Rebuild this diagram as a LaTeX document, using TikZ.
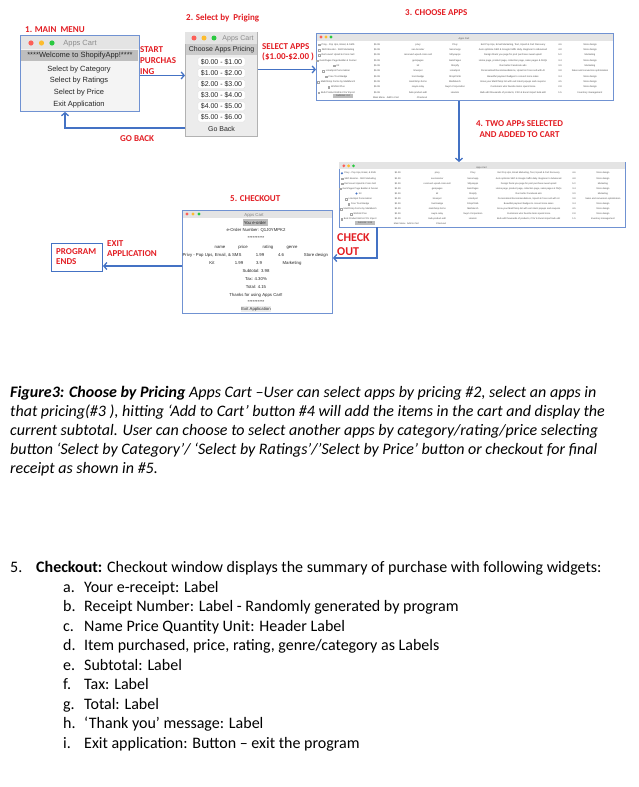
\documentclass[tikz,border=0pt]{standalone}
\usepackage{fontspec}
\setmainfont{Carlito}
\newfontfamily\uifont{Liberation Sans}
\usetikzlibrary{arrows.meta,calc}
\definecolor{lblred}{HTML}{E31E24}
\definecolor{lnblue}{HTML}{4472C4}
\definecolor{winborder}{HTML}{7092D2}
\definecolor{titlebar}{HTML}{E4E4E4}
\definecolor{mmbody}{HTML}{F4F4F4}
\definecolor{barbg}{HTML}{BEBEBE}
\definecolor{wintwo}{HTML}{ECECEC}
\definecolor{macred}{HTML}{FC5F57}
\definecolor{macyel}{HTML}{FDBC2E}
\definecolor{macgrn}{HTML}{2AC840}
\definecolor{btngray}{HTML}{BDBDBD}
\tikzset{
 redlbl/.style={text=lblred, font=\bfseries\fontsize{9}{10}\selectfont, inner sep=0, anchor=base west},
 bigred/.style={text=lblred, font=\bfseries\fontsize{12}{14}\selectfont, inner sep=0, anchor=base west},
 conn/.style={draw=lnblue, line width=1.3pt, -{Straight Barb[length=3pt,width=7pt]}},
 winframe/.style={draw=winborder, line width=0.9pt, inner sep=0, anchor=north west},
 mmtext/.style={font=\uifont\fontsize{7.5}{8}\selectfont, inner sep=0, text=black!85, anchor=mid},
 wtwotext/.style={font=\uifont\fontsize{7}{8}\selectfont, inner sep=0, text=black!85},
 tbl/.style={font=\uifont\fontsize{2.4}{2.6}\selectfont, inner sep=0, text=black!70, anchor=mid},
 ckt/.style={font=\uifont\fontsize{4.3}{4.6}\selectfont, inner sep=0, text=black!85, anchor=mid},
 doctext/.style={font=\fontsize{16}{19}\selectfont, inner sep=0, anchor=base west, text=black},
}
\newcommand\macdots[4]{%
 \fill[macred] (#1,#2) circle (#4);
 \fill[macyel] ({#1+#3},#2) circle (#4);
 \fill[macgrn] ({#1+2*#3},#2) circle (#4);}
\newcommand\trow[8]{%
 \node[tbl] (\tpfx n#1) at (22,{10+5.3*#1}) {#2};
 \ifnum#8=1
   \fill[lnblue] ($(\tpfx n#1.west)+(-2.3,0)$) circle (1.2pt);
 \else
   \draw[black!35,line width=0.15pt] ($(\tpfx n#1.west)+(-3.2,-0.8)$) rectangle ++(1.6,1.6);
 \fi
 \node[tbl] (\tpfx p#1) at (61,{10+5.3*#1}) {\$1.99};
 \node[tbl] (\tpfx h#1) at (102,{10+5.3*#1}) {#3};
 \node[tbl] (\tpfx d#1) at (139,{10+5.3*#1}) {#4};
 \node[tbl] (\tpfx s#1) at (197,{10+5.3*#1}) {#5};
 \node[tbl] (\tpfx r#1) at (244,{10+5.3*#1}) {#6};
 \node[tbl] (\tpfx c#1) at (274,{10+5.3*#1}) {#7};}
\newcommand\apptable[3]{%
 \def\tpfx{#1}%
 \node[winframe, minimum width=297pt, minimum height=67pt, fill=white] (#1) at (0,0) {};
 \fill[titlebar] (0.5,0.5) rectangle (296.5,7.5);
 \macdots{5}{4}{5}{1.6pt}
 \node[tbl] (#1title) at (148,4) {Apps Cart};
 \trow{0}{Privy - Pop Ups, Email, \& SMS}{privy}{Privy}{Exit Pop Ups, Email Marketing, Text, Upsell \& Cart Recovery}{4.6}{Store design}{#2}
 \trow{1}{SEO Booster - SEO Marketing}{seo-booster}{Secomapp}{Auto optimize SEO \& Google traffic daily. Beginner to Advanced}{4.8}{Store design}{0}
 \trow{2}{ReConvert Upsell \& Cross Sell}{reconvert-upsell-cross-sell}{Stilyoapps}{Design thank you page for post purchase sweet upsell}{5.0}{Marketing}{0}
 \trow{3}{GemPages Page Builder \& Funnel}{gempages}{GemPages}{Home page, product page, collection page, sales pages \& FAQs}{3.4}{Store design}{0}
 \trow{4}{Kit}{kit}{Shopify}{Run better Facebook ads}{3.9}{Marketing}{#2}
 \trow{5}{LimeSpot Personalizer}{limespot}{LimeSpot}{Personalized Recommendations, Upsell \& Cross sell with AI}{3.8}{Sales and conversion optimization}{0}
 \trow{6}{Free Trust Badge}{trust-badge}{ShopClimb}{Beautiful payment badges to convert more sales}{3.4}{Store design}{0}
 \trow{7}{MailChimp Forms by MailMunch}{mailchimp-forms}{MailMunch}{Grow your MailChimp list with exit intent popups and coupons}{4.5}{Store design}{0}
 \trow{8}{Wishlist Plus}{swym-relay}{Swym Corporation}{Customers who favorite items spend more}{2.8}{Store design}{0}
 \trow{9}{Bulk Product Edit \& CSV Import}{bulk-product-edit}{Hextom}{Bulk edit thousands of products, CSV \& Excel import bulk edit}{1.5}{Inventory management}{0}
 \node[tbl, fill=btngray, minimum width=20pt, minimum height=4pt, anchor=center] (#1sub) at (27,63) {Subtotal: #3};
 \node[tbl] (#1menu) at (70,63) {Main Menu \enspace Add to Cart};
 \node[tbl] (#1chk) at (106,63) {Checkout};}
\begin{document}
\begin{tikzpicture}[x=1pt,y=-1pt]
\fill[white] (0,0) rectangle (638,787);
\useasboundingbox (0,0) rectangle (638,787);

% ---------- 1. main menu window
\node[winframe, minimum width=119pt, minimum height=76pt, fill=mmbody] (mm) at (20,35) {};
\fill[titlebar] (20.5,35.5) rectangle (138.5,49);
\macdots{31}{43}{10.5}{2.6pt}
\node[mmtext, text=black!45] (mmtitle) at (80,43) {Apps Cart};
\fill[barbg] (21,50) rectangle (138,61);
\node[mmtext] (mmwel) at (80,55.5) {****Welcome to ShopifyApp!****};
\node[mmtext] (mm1) at (79,69) {Select by Category};
\node[mmtext] (mm2) at (79,80.5) {Select by Ratings};
\node[mmtext] (mm3) at (79,92) {Select by Price};
\node[mmtext] (mm4) at (79,104.5) {Exit Application};

% ---------- 2. pricing window
\node[anchor=north west, draw=black!30, line width=0.6pt, fill=wintwo, minimum width=72pt, minimum height=104pt, inner sep=0] (w2) at (185,32) {};
\fill[titlebar] (185.4,32.4) rectangle (256.6,43.5);
\macdots{194}{38}{10}{2.5pt}
\node[wtwotext, text=black!45, anchor=mid] (w2title) at (238,38) {Apps Cart};
\fill[barbg!80] (185.5,44) rectangle (256.5,55);
\node[wtwotext, anchor=mid] (w2head) at (221.5,49.5) {Choose Apps Pricing};
\foreach \k/\t in {0/{\$0.00 - \$1.00},1/{\$1.00 - \$2.00},2/{\$2.00 - \$3.00},3/{\$3.00 - \$4.00},4/{\$4.00 - \$5.00},5/{\$5.00 - \$6.00}}{
  \node[wtwotext, draw=black!12, fill=white, rounded corners=1.5pt, minimum width=47pt, minimum height=9pt] (w2b\k) at (221.5,{61.7+11.15*\k}) {\t};
}
\node[wtwotext] (w2back) at (221.5,129) {Go Back};

% ---------- 3. choose apps window
\begin{scope}[shift={(316,33)}, transform shape]
\apptable{w3}{0}{0.0}
\end{scope}

% ---------- 4. two apps selected window
\begin{scope}[shift={(339,162)}, scale=0.963, transform shape]
\apptable{w4}{1}{3.98}
\end{scope}

% ---------- 5. checkout window
\node[winframe, minimum width=150pt, minimum height=103pt, fill=white] (ck) at (182,210) {};
\fill[titlebar] (182.5,210.5) rectangle (331.5,218);
\macdots{187}{214}{6}{1.7pt}
\node[ckt, text=black!50] (cktitle) at (254,214) {Apps Cart};
\node[ckt, fill=btngray, minimum width=25pt, minimum height=7pt, anchor=center] (ckyou) at (255,222.5) {You e-order};
\node[ckt] (cknum) at (256,229.5) {e-Order Number: Q1J0YMPK2};
\node[ckt] (ckst1) at (256,237.5) {**********};
\node[ckt] (ckh1) at (220,246) {name};
\node[ckt] (ckh2) at (243,246) {price};
\node[ckt] (ckh3) at (268,246) {rating};
\node[ckt] (ckh4) at (292,246) {genre};
\node[ckt] (cka1) at (212,254) {Privy - Pop Ups, Email, \& SMS};
\node[ckt] (cka2) at (260,254) {1.99};
\node[ckt] (cka3) at (281,254) {4.6};
\node[ckt] (cka4) at (316,254) {Store design};
\node[ckt] (ckb1) at (212,262) {Kit};
\node[ckt] (ckb2) at (239,262) {1.99};
\node[ckt] (ckb3) at (259,262) {3.9};
\node[ckt] (ckb4) at (292,262) {Marketing};
\node[ckt] (cksub) at (256,270) {Subtotal: 3.98};
\node[ckt] (cktax) at (256,278) {Tax: 4.30\%};
\node[ckt] (cktot) at (256,286) {Total: 4.15};
\node[ckt] (ckthx) at (256,294) {Thanks for using Apps Cart!};
\node[ckt] (ckst2) at (256,301.5) {**********};
\node[ckt, fill=black!7, minimum width=30pt, minimum height=6pt, anchor=center] (ckexit) at (256,309) {Exit Application};

% ---------- program ends box
\node[draw=lnblue, line width=1pt, minimum width=51pt, minimum height=28pt, inner sep=0, anchor=north west] (pe) at (51,243) {};
\node[redlbl] (pe1) at (56,254.7) {PROGRAM};
\node[redlbl] (pe2) at (56,264.7) {ENDS};

% ---------- red labels
\node[redlbl] (lmain) at (25,32) {1. MAIN\ \ MENU};
\node[redlbl] (lsel) at (186,20) {2. Select by\ \ Priging};
\node[redlbl] (lst1) at (140,52) {START};
\node[redlbl] (lst2) at (140,63) {PURCHAS};
\node[redlbl] (lst3) at (140,74) {ING};
\node[redlbl] (lsa1) at (262,49) {SELECT APPS};
\node[redlbl] (lsa2) at (262,59.5) {(\$1.00-\$2.00 )};
\node[redlbl] (lchoose) at (405,15) {3. CHOOSE APPS};
\node[redlbl, anchor=base] (ltwo1) at (519.5,126.5) {4. TWO APPs SELECTED};
\node[redlbl, anchor=base] (ltwo2) at (519.5,137.5) {AND ADDED TO CART};
\node[redlbl] (lgo) at (120,141.5) {GO BACK};
\node[bigred] (lck1) at (337,241) {CHECK};
\node[bigred] (lck2) at (337,255.5) {OUT};
\node[redlbl] (lcko) at (230,201) {5. CHECKOUT};
\node[redlbl] (lex1) at (107,246) {EXIT};
\node[redlbl] (lex2) at (107,256.5) {APPLICATION};

% ---------- connectors
\coordinate (gbc) at (65,128);
\coordinate (dn) at (459,0);
\coordinate (co) at (377,258);
\coordinate (ex) at (0,266);
\draw[conn] ([yshift=-2pt]mm.east) -- ([yshift=-2pt]mm.east -| w2.west);
\draw[conn] ([yshift=-2.5pt]w3.west -| w2.east) -- ([yshift=-2.5pt]w3.west);
\draw[conn] (w2.west |- gbc) -- (gbc) -- (gbc |- mm.south);
\draw[conn] (w3.south -| dn) -- (w4.north -| dn);
\draw[conn] (w4.south -| co) -- (co) -- (co -| ck.east);
\draw[conn] (ck.west |- ex) -- (pe.east |- ex);

% ---------- caption
\node[doctext] (cap1) at (10,397.5) {\itshape{\bfseries Figure3: Choose by Pricing} Apps Cart –User can select apps by pricing \#2, select an apps in};
\node[doctext] (cap2) at (10,416.5) {\itshape that pricing(\#3 ), hitting ‘Add to Cart’ button \#4 will add the items in the cart and display the};
\node[doctext] (cap3) at (10,435.5) {\itshape current subtotal. User can choose to select another apps by category/rating/price selecting};
\node[doctext] (cap4) at (10,454.5) {\itshape button ‘Select by Category’/ ‘Select by Ratings’/’Select by Price’ button or checkout for final};
\node[doctext] (cap5) at (10,473.5) {\itshape receipt as shown in \#5.};

% ---------- list
\node[doctext] (l5n) at (10,572.5) {5.};
\node[doctext] (l5t) at (36,572.5) {\textbf{Checkout:} Checkout window displays the summary of purchase with following widgets:};
\node[doctext] (lan) at (63,592) {a.};
\node[doctext] (lat) at (84,592) {Your e-receipt: Label};
\node[doctext] (lbn) at (63,611.5) {b.};
\node[doctext] (lbt) at (84,611.5) {Receipt Number: Label - Randomly generated by program};
\node[doctext] (lcn) at (63,631) {c.};
\node[doctext] (lct) at (84,631) {Name Price Quantity Unit: Header Label};
\node[doctext] (ldn) at (63,650.5) {d.};
\node[doctext] (ldt) at (84,650.5) {Item purchased, price, rating, genre/category as Labels};
\node[doctext] (len) at (63,670) {e.};
\node[doctext] (let) at (84,670) {Subtotal: Label};
\node[doctext] (lfn) at (63,689.5) {f.};
\node[doctext] (lft) at (84,689.5) {Tax: Label};
\node[doctext] (lgn) at (63,709) {g.};
\node[doctext] (lgt) at (84,709) {Total: Label};
\node[doctext] (lhn) at (63,728.5) {h.};
\node[doctext] (lht) at (84,728.5) {‘Thank you’ message: Label};
\node[doctext] (lin) at (63,748) {i.};
\node[doctext] (lit) at (84,748) {Exit application: Button – exit the program};
\end{tikzpicture}
\end{document}
